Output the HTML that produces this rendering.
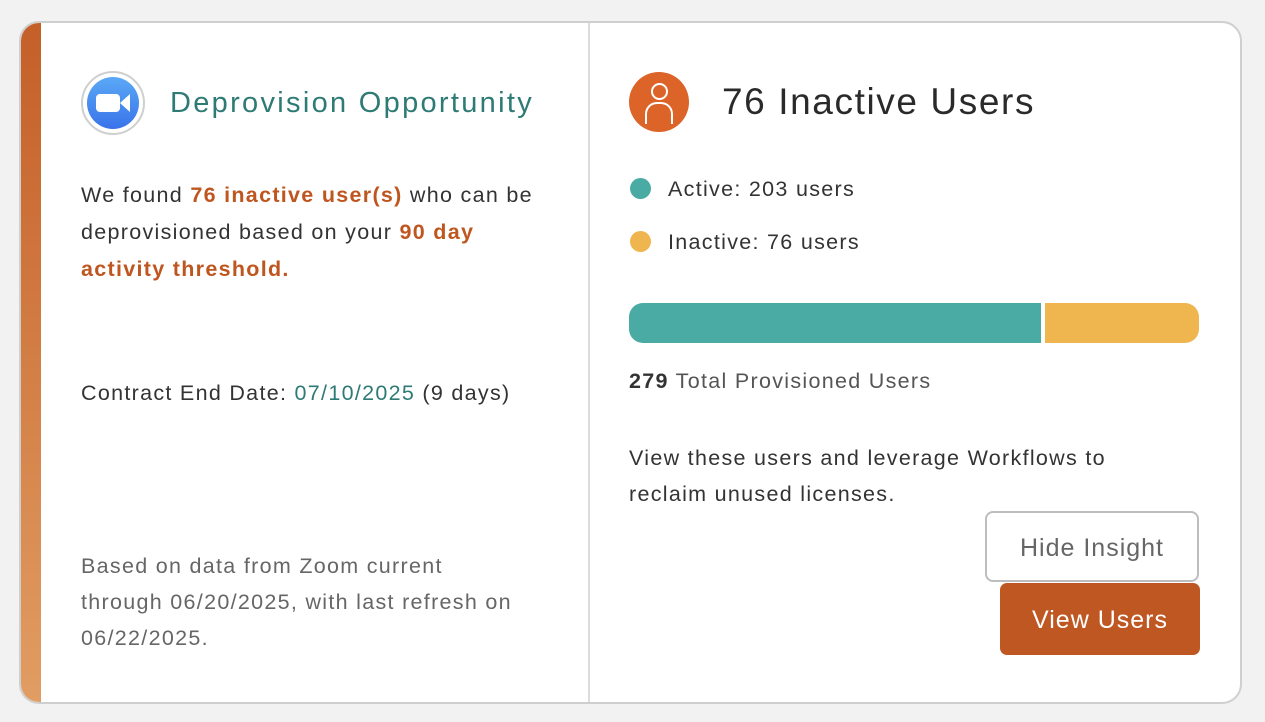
<!DOCTYPE html>
<html><head><meta charset="utf-8"><style>
body{margin:0;width:1265px;height:722px;background:#f2f2f2;font-family:"Liberation Sans",sans-serif;position:relative;overflow:hidden}
.card{position:absolute;left:19px;top:21px;width:1219px;height:679px;border:2px solid #cfcfcf;border-radius:20px;background:#fff;overflow:hidden}
.bar{position:absolute;left:0;top:0;width:20px;height:100%;background:linear-gradient(#c45f28,#e19d63)}
.div{position:absolute;left:567px;top:0;width:2px;height:100%;background:#dcdcdc}
.t{position:absolute;white-space:nowrap;color:#333;letter-spacing:1.3px}
.o{color:#c0561f;font-weight:bold}
</style></head><body>
<div class="card">
<div class="bar"></div><div class="div"></div>
</div>
<div style="position:absolute;left:81px;top:71px;width:60px;height:60px;border-radius:50%;border:2px solid #cfcfcf;background:#fff"></div>
<div style="position:absolute;left:87px;top:77px;width:52px;height:52px;border-radius:50%;background:linear-gradient(#5aa9f6,#3a73ea)"></div>
<div style="position:absolute;left:96px;top:94px;width:24px;height:18px;border-radius:4px;background:#fff"></div>
<div style="position:absolute;left:120px;top:94px;width:0;height:0;border-top:9px solid transparent;border-bottom:9px solid transparent;border-right:10px solid #fff"></div>
<div class="t" style="left:170px;top:87px;font-size:29px;color:#2e7a74;letter-spacing:2.3px">Deprovision Opportunity</div>
<div class="t" style="left:81px;top:177px;font-size:21.5px;line-height:37px">We found <span class="o">76 inactive user(s)</span> who can be<br>deprovisioned based on your <span class="o">90 day</span><br><span class="o">activity threshold.</span></div>
<div class="t" style="left:81px;top:381px;font-size:21.5px">Contract End Date: <span style="color:#2e7a74">07/10/2025</span> (9 days)</div>
<div class="t" style="left:81px;top:548px;font-size:21.5px;line-height:36px;color:#666">Based on data from Zoom current<br>through 06/20/2025, with last refresh on<br>06/22/2025.</div>
<div style="position:absolute;left:629px;top:72px;width:60px;height:60px;border-radius:50%;background:#dc6428"></div>
<div style="position:absolute;left:651px;top:83px;width:13px;height:13px;border-radius:50%;border:2.5px solid #fff"></div>
<div style="position:absolute;left:645px;top:102px;width:24px;height:20px;border:2.5px solid #fff;border-bottom:none;border-radius:12px 12px 0 0"></div>
<div class="t" style="left:722px;top:81px;font-size:37px;color:#2a2a2a;letter-spacing:1.6px">76 Inactive Users</div>
<div style="position:absolute;left:630px;top:178px;width:21px;height:21px;border-radius:50%;background:#4aaaa4"></div>
<div class="t" style="left:668px;top:177px;font-size:21.5px">Active: 203 users</div>
<div style="position:absolute;left:630px;top:231px;width:21px;height:21px;border-radius:50%;background:#efb54f"></div>
<div class="t" style="left:668px;top:230px;font-size:21.5px">Inactive: 76 users</div>
<div style="position:absolute;left:629px;top:303px;width:412px;height:40px;background:#4aaaa4;border-radius:14px 0 0 14px"></div>
<div style="position:absolute;left:1045px;top:303px;width:154px;height:40px;background:#efb54f;border-radius:0 14px 14px 0"></div>
<div class="t" style="left:629px;top:369px;font-size:21.5px;color:#555"><b style="color:#333">279</b> Total Provisioned Users</div>
<div class="t" style="left:629px;top:440px;font-size:21.5px;line-height:36px">View these users and leverage Workflows to<br>reclaim unused licenses.</div>
<div style="position:absolute;left:985px;top:511px;width:210px;height:67px;border:2px solid #bdbdbd;border-radius:8px;background:#fff;color:#666;font-size:25px;line-height:70px;text-align:center;letter-spacing:1px">Hide Insight</div>
<div style="position:absolute;left:1000px;top:583px;width:200px;height:72px;border-radius:7px;background:#bf5722;color:#fff;font-size:25px;line-height:74px;text-align:center;letter-spacing:1px">View Users</div>
</body></html>
